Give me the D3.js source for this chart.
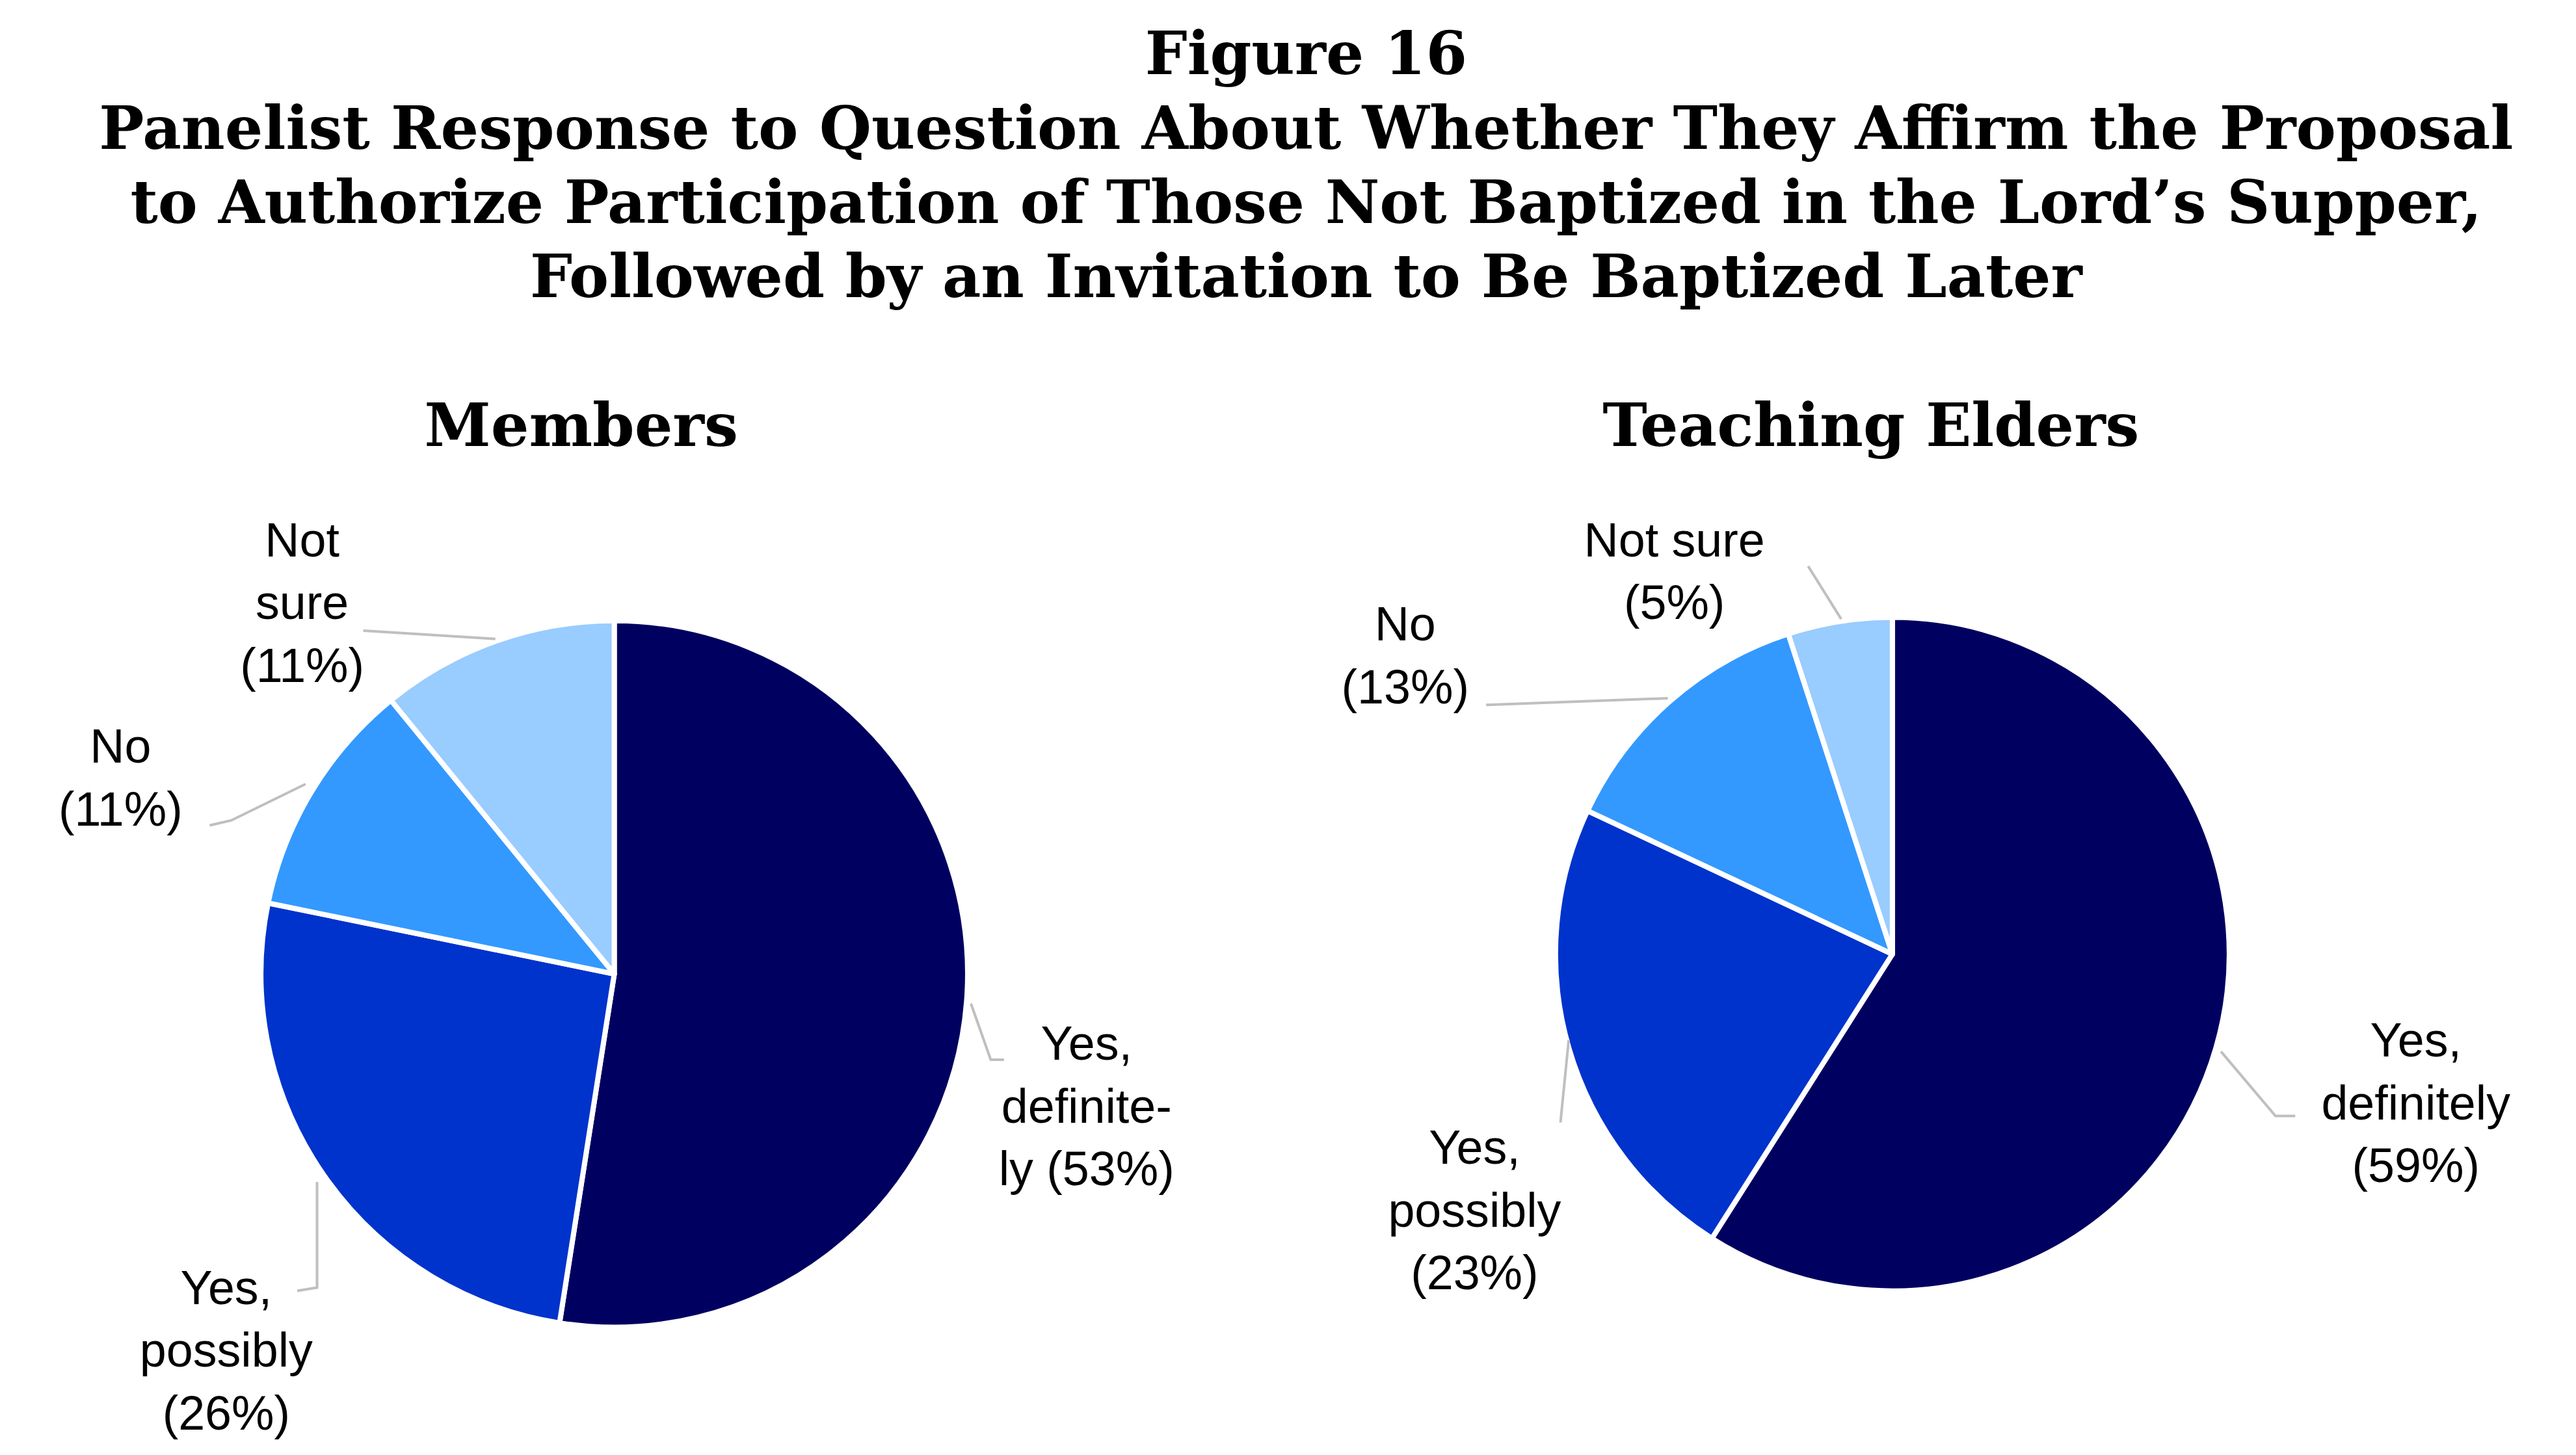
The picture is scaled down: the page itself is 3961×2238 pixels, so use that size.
<!DOCTYPE html>
<html><head><meta charset="utf-8">
<script src="https://cdn.jsdelivr.net/npm/d3@7"></script>
<style>body{margin:0;background:#fff}</style></head>
<body><svg id="c" width="3961" height="2238"></svg>
<script>
const titleLines = ["Figure 16","Panelist Response to Question About Whether They Affirm the Proposal","to Authorize Participation of Those Not Baptized in the Lord\u2019s Supper,","Followed by an Invitation to Be Baptized Later"];
const categories = ["Yes, definitely","Yes, possibly","No","Not sure"];
const membersValues = [53,26,11,11];
const eldersValues = [59,23,13,5];
const colors = ["#000060","#0033CC","#3399FF","#99CCFF"];
const S = 3961/1560;
const svg = d3.select("#c");
const titleY=[32,77,122,167], titleW=[null,1462,1424,940];
titleLines.forEach((t,i)=>{
  const el=svg.append("text").attr("x",791*S).attr("y",(titleY[i]+13)*S).attr("text-anchor","middle")
   .attr("font-family","DejaVu Serif").attr("font-weight","bold").attr("font-size",36*S).attr("fill","#000").text(t);
  if(titleW[i]) el.attr("textLength",titleW[i]*S).attr("lengthAdjust","spacingAndGlyphs");
});
const charts=[
 {title:"Members",tx:352,cx:372,cy:590,r:214,values:membersValues,
  labels:[["Yes,","definite-","ly (53%)"],["Yes,","possibly","(26%)"],["No","(11%)"],["Not","sure","(11%)"]],
  lpos:[[658,632],[137,780],[73,452],[183,327]],
  leaders:[[[588,608],[600,642],[608,642]],[[192,716],[192,780],[180,782]],[[185,475],[140,497],[127,500]],[[300,387],[220,382]]]},
 {title:"Teaching Elders",tx:1133,cx:1146,cy:578,r:204,values:eldersValues,
  labels:[["Yes,","definitely","(59%)"],["Yes,","possibly","(23%)"],["No","(13%)"],["Not sure","(5%)"]],
  lpos:[[1463,630],[893,695],[851,378],[1014,327]],
  leaders:[[[1345,637],[1378,676],[1390,676]],[[950,630],[945,680]],[[1010,423],[900,427]],[[1115,375],[1095,343]]]}
];
charts.forEach(c=>{
  svg.append("text").attr("x",c.tx*S).attr("y",(257+13)*S).attr("text-anchor","middle")
   .attr("font-family","DejaVu Serif").attr("font-weight","bold").attr("font-size",36*S).text(c.title)
   .attr("textLength",(c.title==="Members"?190:325)*S).attr("lengthAdjust","spacingAndGlyphs");
  const g=svg.append("g").attr("transform",`translate(${c.cx*S},${c.cy*S})`);
  const pie=d3.pie().sort(null).value(d=>d)(c.values);
  const arc=d3.arc().innerRadius(0).outerRadius(c.r*S);
  g.selectAll("path").data(pie).join("path").attr("d",arc).attr("fill",(d,i)=>colors[i])
   .attr("stroke","#fff").attr("stroke-width",8).attr("stroke-linejoin","round");
  c.leaders.forEach(pts=>svg.append("path").attr("d",d3.line()(pts.map(p=>[p[0]*S,p[1]*S])))
   .attr("fill","none").attr("stroke","#BFBFBF").attr("stroke-width",4));
  c.labels.forEach((ls,i)=>{
    const t=svg.append("text").attr("text-anchor","middle").attr("font-family","Liberation Sans")
     .attr("font-size",29*S).attr("fill","#000");
    ls.forEach((l,j)=>t.append("tspan").attr("x",c.lpos[i][0]*S).attr("y",(c.lpos[i][1]+10+j*38)*S).text(l));
  });
});
</script></body></html>
